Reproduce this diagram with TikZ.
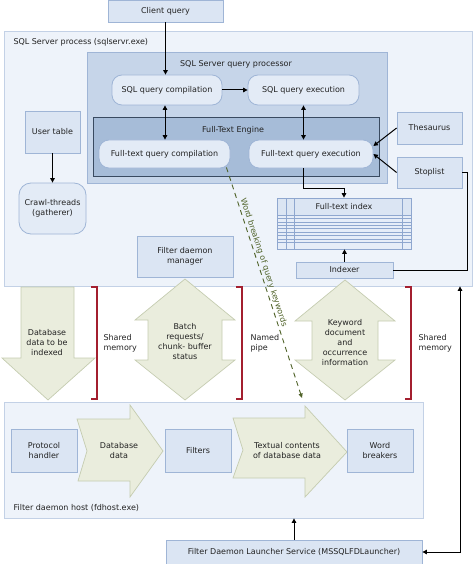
\documentclass[tikz,border=0pt]{standalone}
\usepackage{fontspec}
\setmainfont{DejaVu Sans}
\usetikzlibrary{arrows.meta,calc}
\definecolor{outerf}{HTML}{EEF3FA}
\definecolor{outerb}{HTML}{C3D1E6}
\definecolor{qpf}{HTML}{C6D5E9}
\definecolor{qpb}{HTML}{9FB5D6}
\definecolor{ftef}{HTML}{A6BCD8}
\definecolor{fteb}{HTML}{394A60}
\definecolor{rndf}{HTML}{E3EBF6}
\definecolor{boxf}{HTML}{DBE5F3}
\definecolor{boxb}{HTML}{9FB5D6}
\definecolor{bigf}{HTML}{EAEDDD}
\definecolor{bigb}{HTML}{C5CCB0}
\definecolor{redb}{HTML}{A31F2F}
\definecolor{olive}{HTML}{4F6228}
\definecolor{tblline}{HTML}{8FA7CF}
\definecolor{tblf}{HTML}{E6EDF8}
\definecolor{txt}{HTML}{222222}
\begin{document}
\begin{tikzpicture}[x=1pt,y=-1pt,
  font=\fontsize{8}{10}\selectfont, text=txt,
  sz/.style 2 args={minimum width=#1, minimum height=#2, inner sep=0pt},
  outerbox/.style={draw=outerb, fill=outerf, line width=0.8pt},
  qpbox/.style={draw=qpb, fill=qpf, line width=0.8pt},
  ftebox/.style={draw=fteb, fill=ftef, line width=1pt},
  rnd/.style={draw=boxb, fill=rndf, line width=0.8pt, rounded corners=10pt, align=center},
  rbox/.style={draw=boxb, fill=boxf, line width=0.8pt, align=center},
  tbl/.style={draw=tblline, fill=tblf, line width=0.7pt},
  arr/.style={-{Triangle[length=4.5pt,width=4.5pt]}, line width=1pt, black},
  darr/.style={{Triangle[length=4.5pt,width=4.5pt]}-{Triangle[length=4.5pt,width=4.5pt]}, line width=1pt, black},
  conn/.style={line width=1pt, black},
  bigarrow/.style={draw=bigb, fill=bigf, line width=0.7pt},
  bracket/.style={draw=redb, line width=1.3pt},
  dasharr/.style={-{Triangle[length=4.5pt,width=4pt]}, draw=olive, line width=0.9pt, dash pattern=on 5pt off 4pt}
]
\useasboundingbox (0,0) rectangle (474,564);

% SQL Server process
\node[outerbox, sz={468}{255}] (sqlproc) at (238,158.5) {};
\node[anchor=west] (sqlproclbl) at (10,42) {SQL Server process (sqlservr.exe)};
\node[qpbox, sz={300}{131}] (qp) at (237,117.5) {};
\node (qplbl) at (236,64) {SQL Server query processor};
\node[ftebox, sz={286}{58}] (fte) at (236,147) {};
\node (ftelbl) at (233,130) {Full-Text Engine};

\node[rnd, sz={110}{30}] (sqlcomp) at (167,90) {SQL query compilation};
\node[rnd, sz={111}{30}] (sqlexec) at (303.5,90) {SQL query execution};
\node[rnd, sz={131}{28}] (ftcomp) at (164.5,154) {Full-text query compilation};
\node[rnd, sz={124}{28}] (ftexec) at (311,154) {Full-text query execution};

\node[rbox, sz={115}{22}] (client) at (165.5,11) {Client query};
\node[rbox, sz={55}{42}] (user) at (52.5,132) {User table};
\node[rnd, rounded corners=12pt, sz={67}{51}] (crawl) at (52.5,208.5) {Crawl-threads\\(gatherer)};
\node[rbox, sz={96}{41}] (fdm) at (185,256.5) {Filter daemon\\manager};
\node[rbox, sz={65}{32}] (thes) at (429.5,128) {Thesaurus};
\node[rbox, sz={65}{31}] (stop) at (429.5,172.5) {Stoplist};

% Full-text index table
\node[tbl, sz={134}{51}] (ftindex) at (344,223.5) {};
\fill[boxf] (277.4,198.4) rectangle (410.6,215);
\foreach \k in {0,...,8} {
  \draw[tblline, line width=0.6pt] (277,{215+3.4*\k}) -- (411,{215+3.4*\k});
}
\foreach \xx in {286,294,402} {
  \draw[tblline, line width=0.6pt] (\xx,198) -- (\xx,249);
}
\draw[tblline, line width=0.7pt] (277,198) rectangle (411,249);
\node (ftindexlbl) at (344,206.5) {Full-text index};
\node[rbox, sz={97}{16}] (indexer) at (344.5,270) {Indexer};

% connectors in SQL process
\draw[arr] (client.south) -- (client.south |- sqlcomp.north);
\draw[arr] (sqlcomp.east) -- (sqlexec.west);
\draw[darr] ([xshift=-2pt]sqlcomp.south) -- ([xshift=-2pt]sqlcomp.south |- ftcomp.north);
\draw[darr] (sqlexec.south) -- (sqlexec.south |- ftexec.north);
\draw[arr] (thes.west) -- ([yshift=8pt]ftexec.east);
\draw[arr] (stop.west) -- (ftexec.east);
\coordinate (sr) at (467,172.5);
\draw[conn] (stop.east) -- (sr) |- (indexer.east);
\draw[arr] ([xshift=-8pt]ftexec.south) -- ++(0,20) -| (ftindex.north);
\draw[arr] (indexer.north) -- (indexer.north |- ftindex.south);
\draw[arr] (user) -- (crawl);

% Filter daemon host
\node[outerbox, sz={419}{116}] (fdhost) at (213.5,460) {};
\node[anchor=west] (fdhostlbl) at (10,508) {Filter daemon host (fdhost.exe)};
\node[rbox, sz={66}{43}] (proto) at (44,450.5) {Protocol\\handler};
\draw[bigarrow] (77,419) -- (130,419) -- (130,405) -- (163,451) -- (130,497) -- (130,481) -- (78,481) -- (87,451) -- cycle;
\node[align=center] (dbdata) at (119,451) {Database\\data};
\node[rbox, sz={66}{43}] (filters) at (198,450.5) {Filters};
\draw[bigarrow] (233,418) -- (305,418) -- (305,406) -- (347,452) -- (305,497) -- (305,478) -- (233,478) -- (243,450) -- cycle;
\node[align=center] (textual) at (287,450.5) {Textual contents\\of database data};
\node[rbox, sz={66}{43}] (wb) at (380,450.5) {Word\\breakers};

% big arrows between processes
\draw[bigarrow] (21,287) -- (74,287) -- (74,358) -- (95,358) -- (48,400) -- (2,358) -- (21,358) -- cycle;
\node[align=center] (dbidx) at (47,343) {Database\\data to be\\indexed};
\draw[bigarrow] (185,279) -- (235,320) -- (222,320) -- (222,360) -- (235,360) -- (185,400) -- (135,360) -- (148,360) -- (148,320) -- (135,320) -- cycle;
\node[align=center] (batch) at (185,342) {Batch\\requests/\\chunk- buffer\\status};
\draw[bigarrow] (345,280) -- (395,321) -- (378,321) -- (378,360) -- (395,360) -- (345,400) -- (295,360) -- (312,360) -- (312,321) -- (295,321) -- cycle;
\node[align=center] (kw) at (345,343) {Keyword\\document\\and\\occurrence\\information};

% red brackets
\draw[bracket] (91,287) -- (97,287) -- (97,399) -- (91,399);
\draw[bracket] (236,287) -- (242,287) -- (242,399) -- (236,399);
\draw[bracket] (405,287) -- (411,287) -- (411,399) -- (405,399);
\node[anchor=west, align=left] (sm1) at (100,343) {Shared\\memory};
\node[anchor=west, align=left] (np) at (247,343) {Named\\pipe};
\node[anchor=west, align=left] (sm2) at (415,343) {Shared\\memory};

% launcher
\node[rbox, sz={256}{24}] (launcher) at (294,552) {Filter Daemon Launcher Service (MSSQLFDLauncher)};
\draw[arr] (launcher.north) -- (launcher.north |- fdhost.south);
\coordinate (lr) at (460,552);
\draw[darr] (launcher.east) -- (lr) -- (lr |- sqlproc.south);

% dashed word breaking
\coordinate (wbend) at (302,398);
\draw[dasharr] ([xshift=-4pt,yshift=1pt]ftcomp.south east) -- (wbend)
  node[sloped, pos=0.42, above=1.5pt, text=olive, inner sep=0pt] (wblbl) {Word breaking of query keywords};
\end{tikzpicture}
\end{document}
